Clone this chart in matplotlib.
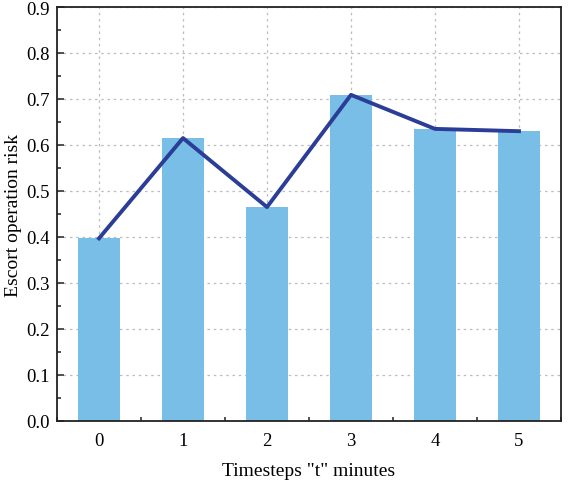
import matplotlib
matplotlib.use('Agg')
import matplotlib.pyplot as plt
from matplotlib.ticker import MultipleLocator

# data
timesteps = [0, 1, 2, 3, 4, 5]
risk = [0.397, 0.615, 0.465, 0.709, 0.635, 0.630]

plt.rcParams['font.family'] = ['Liberation Serif', 'DejaVu Serif']

fig = plt.figure(figsize=(5.73, 4.85), dpi=100)
ax = fig.add_axes([0.0995, 0.130, 0.8795, 0.8535])

ax.bar(timesteps, risk, width=0.5, color='#78bee6', zorder=2)
ax.plot(timesteps, risk, color='#2b3d96', linewidth=2.8, zorder=3)

ax.set_xlim(-0.5, 5.5)
ax.set_ylim(0, 0.9)
ax.xaxis.set_major_locator(MultipleLocator(1))
ax.xaxis.set_minor_locator(MultipleLocator(0.5))
ax.yaxis.set_major_locator(MultipleLocator(0.1))
ax.yaxis.set_minor_locator(MultipleLocator(0.05))
ax.yaxis.set_major_formatter(plt.FormatStrFormatter('%.1f'))

ax.tick_params(which='both', direction='in', labelsize=13.5, width=1.1, color='#222222')
ax.tick_params(which='major', length=5)
ax.tick_params(which='minor', length=3)
ax.tick_params(axis='x', pad=8)
ax.tick_params(axis='y', pad=5)

ax.grid(True, which='major', linestyle=(0, (2, 3)), color='#bdbdbd', linewidth=0.9, zorder=0)
ax.set_axisbelow(True)

for s in ax.spines.values():
    s.set_linewidth(1.3)
    s.set_color('#222222')

ax.set_xlabel('Timesteps "t" minutes', fontsize=14, labelpad=9)
ax.set_ylabel('Escort operation risk', fontsize=14, labelpad=3)

plt.savefig('out.png', dpi=100)
